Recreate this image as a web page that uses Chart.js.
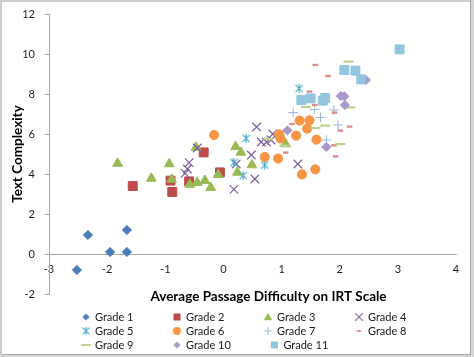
<!DOCTYPE html>
<html><head><meta charset="utf-8">
<script src="https://cdn.jsdelivr.net/npm/chart.js@4/dist/chart.umd.min.js"></script>
<style>html,body{margin:0;padding:0;background:#fff}canvas{display:block}</style>
</head><body>
<canvas id="c" width="474" height="357"></canvas>
<script>
// ---------- data ----------
const seriesNames = ['Grade 1','Grade 2','Grade 3','Grade 4','Grade 5','Grade 6','Grade 7','Grade 8','Grade 9','Grade 10','Grade 11'];
const xTickLabels = ['-3','-2','-1','0','1','2','3','4'];
const yTickLabels = ['-2','0','2','4','6','8','10','12'];
const xTitle = 'Average Passage Difficulty on IRT Scale';
const yTitle = 'Text Complexity';

const g1x = [-2.52, -2.33, -1.95, -1.66, -1.66];
const g1y = [-0.8, 0.95, 0.1, 0.1, 1.2];
const g2x = [-1.56, -0.91, -0.88, -0.59, -0.34, -0.06];
const g2y = [3.4, 3.67, 3.1, 3.63, 5.08, 4.08];
const g3x = [-1.82, -1.24, -0.93, -0.89, -0.58, -0.45, -0.32, -0.22, -0.09, -0.47, 0.21, 0.3, 0.24, 0.49, 1.07];
const g3y = [4.53, 3.78, 4.5, 3.73, 3.48, 3.57, 3.67, 3.32, 3.97, 5.33, 5.37, 5.08, 4.08, 4.45, 5.5];
const g4x = [-0.66, -0.62, -0.59, -0.45, 0.18, 0.22, 0.48, 0.54, 0.57, 0.65, 0.74, 0.82, 0.85, 1.28];
const g4y = [4.03, 4.25, 4.57, 5.3, 3.23, 4.5, 4.95, 3.75, 6.35, 5.6, 5.6, 5.7, 6.0, 4.5];
const g5x = [0.18, 0.34, 0.39, 0.71, 1.3];
const g5y = [4.57, 3.92, 5.78, 4.45, 8.28];
const g6x = [-0.16, 0.71, 0.94, 0.96, 0.98, 1.25, 1.31, 1.35, 1.44, 1.48, 1.58, 1.6];
const g6y = [5.95, 4.85, 4.77, 5.98, 5.78, 5.92, 6.67, 3.98, 6.27, 6.68, 4.23, 5.72];
const g7x = [1.2, 1.57, 1.9, 1.67, 1.97, 1.77];
const g7y = [7.07, 7.23, 7.2, 6.83, 6.45, 5.7];
const g8x = [1.58, 1.8, 1.48, 1.57, 1.91, 1.18, 2.17, 2.01, 1.07, 1.9, 1.93];
const g8y = [9.45, 8.9, 8.12, 7.45, 7.07, 6.5, 6.37, 6.17, 5.07, 5.43, 4.88];
const g9x = [2.15, 1.42, 2.18, 1.75, 1.58, 2.01, 1.05, 0.77];
const g9y = [9.62, 7.35, 7.33, 6.42, 6.3, 5.5, 5.42, 5.75];
const g10x = [2.02, 2.08, 2.09, 2.45, 1.1, 1.77];
const g10y = [7.9, 7.88, 7.45, 8.7, 6.18, 5.35];
const g11x = [3.03, 2.08, 2.27, 2.37, 1.34, 1.5, 1.71, 1.75];
const g11y = [10.23, 9.2, 9.17, 8.73, 7.7, 7.78, 7.67, 7.8];

const seriesX = [g1x,g2x,g3x,g4x,g5x,g6x,g7x,g8x,g9x,g10x,g11x];
const seriesY = [g1y,g2y,g3y,g4y,g5y,g6y,g7y,g8y,g9y,g10y,g11y];

// ---------- styles ----------
const FONT = 'Lato';
const colors = ['#4A7EBB','#BE4B48','#98B954','#7D60A0','#46AAC5','#F69544','#9DB3DF','#D9908E','#BDD18F','#A899C8','#93C6DE'];
const kinds  = ['diamond','square','triangle','x','aster','circle','plus','dash','line','diamond','square'];

function asteriskImg(color, s, lw) {
  const c = document.createElement('canvas'); c.width = s; c.height = s;
  const g = c.getContext('2d'); g.strokeStyle = color; g.lineWidth = lw; g.beginPath();
  const m = s/2, h = s/2 - 1;
  g.moveTo(m-h*0.8, m-h*0.8); g.lineTo(m+h*0.8, m+h*0.8);
  g.moveTo(m+h*0.8, m-h*0.8); g.lineTo(m-h*0.8, m+h*0.8);
  g.moveTo(m, m-h); g.lineTo(m, m+h);
  g.stroke(); return c;
}

const pointCfg = {
  diamond: {pointStyle:'rectRot', pointRadius:4.6, borderWidth:1},
  square:  {pointStyle:'rect', pointRadius:6.3, borderWidth:1},
  triangle:{pointStyle:'triangle', pointRadius:5.6, borderWidth:1},
  x:       {pointStyle:'crossRot', pointRadius:6.0, borderWidth:1.2},
  circle:  {pointStyle:'circle', pointRadius:4.6, borderWidth:1},
  plus:    {pointStyle:'cross', pointRadius:4.8, borderWidth:1},
  dash:    {pointStyle:'line', pointRadius:2.8, borderWidth:2.4},
  line:    {pointStyle:'line', pointRadius:5, borderWidth:2.2}
};

// ---------- legend geometry ----------
const LEG_FONT = 11, LEG_PAD = 3;
const LEG_TEXT_X = 95, LEG_PITCH = 91, LEG_ROW1_Y = 317;
const mctx = document.createElement('canvas').getContext('2d');
mctx.font = 'normal ' + LEG_FONT + 'px ' + FONT;
const baseTextW = mctx.measureText(seriesNames[0]).width;
const WB = LEG_PITCH - LEG_FONT/2 - baseTextW - LEG_PAD;
const ICON_W = Math.ceil(WB) * 2, ICON_H = 14;

function legendIcon(kind, color) {
  const c = document.createElement('canvas'); c.width = ICON_W; c.height = ICON_H;
  const g = c.getContext('2d'); g.fillStyle = color; g.strokeStyle = color;
  const mx = ICON_W/2 + WB/2 - 3.5, my = ICON_H/2;
  g.beginPath();
  switch (kind) {
    case 'diamond': g.moveTo(mx, my-3.6); g.lineTo(mx+3.6, my); g.lineTo(mx, my+3.6); g.lineTo(mx-3.6, my); g.closePath(); g.fill(); break;
    case 'square': g.fillRect(mx-3.5, my-3.5, 7, 7); break;
    case 'triangle': g.moveTo(mx, my-4.2); g.lineTo(mx+4.2, my+3.2); g.lineTo(mx-4.2, my+3.2); g.closePath(); g.fill(); break;
    case 'x': g.lineWidth = 1.1; g.moveTo(mx-3.8, my-3.8); g.lineTo(mx+3.8, my+3.8); g.moveTo(mx+3.8, my-3.8); g.lineTo(mx-3.8, my+3.8); g.stroke(); break;
    case 'aster': g.lineWidth = 1.1; g.moveTo(mx-3.3, my-3.3); g.lineTo(mx+3.3, my+3.3); g.moveTo(mx+3.3, my-3.3); g.lineTo(mx-3.3, my+3.3); g.moveTo(mx, my-4); g.lineTo(mx, my+4); g.stroke(); break;
    case 'circle': g.arc(mx, my, 4, 0, Math.PI*2); g.fill(); break;
    case 'plus': g.lineWidth = 1; g.moveTo(mx-4, my); g.lineTo(mx+4, my); g.moveTo(mx, my-4); g.lineTo(mx, my+4); g.stroke(); break;
    case 'dash': g.fillRect(mx-2, my-1, 4, 2); break;
    case 'line': g.fillRect(mx-5, my-1, 10, 2); break;
  }
  return c;
}
const legendIcons = kinds.map((k, i) => legendIcon(k, colors[i]));

// ---------- datasets ----------
const datasets = seriesNames.map((name, i) => {
  const k = kinds[i];
  const base = k === 'aster'
    ? {pointStyle: asteriskImg(colors[i], 11, 1.2), pointRadius: 5, borderWidth: 1}
    : pointCfg[k];
  return Object.assign({
    label: name,
    data: seriesX[i].map((x, j) => ({x: x, y: seriesY[i][j]})),
    backgroundColor: colors[i],
    borderColor: colors[i],
    showLine: false,
    order: seriesNames.length - i
  }, base, {pointHoverRadius: base.pointRadius});
});

// ---------- plugins ----------
const framePlugin = {
  id: 'frame',
  beforeDraw(chart) {
    const c = chart.ctx, W = chart.width, H = chart.height;
    c.save();
    c.fillStyle = '#ffffff'; c.fillRect(0, 0, W, H);
    c.fillStyle = '#cccccc';
    c.fillRect(0, 0, W, 2); c.fillRect(0, 0, 2, H);
    c.fillStyle = '#d6d6d6';
    c.fillRect(W-4, 0, 4, H); c.fillRect(0, H-3, W, 3);
    c.fillStyle = '#a8a8a8';
    c.fillRect(W-4, 0, 1, H-2); c.fillRect(2, H-3, W-5, 1);
    c.restore();
  }
};
const placePlugin = {
  id: 'place',
  afterLayout(chart) {
    const lg = chart.legend;
    if (lg) {
      const left = LEG_TEXT_X - LEG_FONT/2 - WB - LEG_PAD;
      const top = LEG_ROW1_Y - LEG_PAD - LEG_FONT/2;
      const dx = left - lg.left, dy = top - lg.top;
      lg.left += dx; lg.right += dx; lg.top += dy; lg.bottom += dy;
    }
    const t = chart.titleBlock;
    if (t) {
      const cx = 268.5, cy = 296.5;
      const halfW = (t.right - t.left) / 2;
      t.left = cx - halfW; t.right = cx + halfW;
      const fontLH = 13.5 * 1.2;
      const h = t.bottom - t.top;
      t.top = cy - fontLH/2; t.bottom = t.top + h;
    }
  }
};

new Chart(document.getElementById('c'), {
  type: 'scatter',
  data: {datasets: datasets},
  plugins: [framePlugin, placePlugin],
  options: {
    responsive: false,
    animation: false,
    devicePixelRatio: 1,
    layout: {padding: {left: 4, right: 18, top: 4, bottom: 0}},
    scales: {
      x: {
        type: 'linear', axis: 'x',
        position: {y: 0},
        min: Number(xTickLabels[0]), max: Number(xTickLabels[xTickLabels.length-1]),
        ticks: {stepSize: 1, font: {family: FONT, size: 11}, color: '#1f1f1f', padding: 9,
                callback: (v) => xTickLabels.includes(String(v)) ? String(v) : ''},
        grid: {drawOnChartArea: false, drawTicks: false},
        border: {color: '#a6a6a6', width: 1}
      },
      y: {
        type: 'linear', position: 'left',
        min: Number(yTickLabels[0]), max: Number(yTickLabels[yTickLabels.length-1]),
        ticks: {stepSize: 2, font: {family: FONT, size: 11, lineHeight: 0.73}, color: '#1f1f1f', padding: 10,
                callback: (v) => yTickLabels.includes(String(v)) ? String(v) : ''},
        grid: {drawOnChartArea: false, drawTicks: true, tickLength: 4, color: '#a6a6a6'},
        border: {color: '#a6a6a6', width: 1},
        title: {display: true, text: yTitle, font: {family: FONT, size: 13.5, weight: 'bold'}, color: '#000', padding: {top: 6, bottom: 0}},
        afterFit: (s) => { s.width = 45; }
      }
    },
    plugins: {
      tooltip: {enabled: false},
      title: {
        display: true, text: xTitle, position: 'bottom', fullSize: false,
        font: {family: FONT, size: 13.5, weight: 'bold'}, color: '#000',
        padding: {top: 0, bottom: -5.2}
      },
      legend: {
        display: true, position: 'bottom', fullSize: false, align: 'start',
        labels: {
          usePointStyle: true, pointStyleWidth: WB, padding: LEG_PAD,
          font: {family: FONT, size: LEG_FONT}, color: '#1a1a1a',
          generateLabels: (chart) => {
            const items = Chart.defaults.plugins.legend.labels.generateLabels(chart);
            items.sort((a, b) => a.datasetIndex - b.datasetIndex);
            items.forEach((it) => { it.pointStyle = legendIcons[it.datasetIndex]; it.rotation = 0; });
            return items;
          }
        }
      }
    }
  }
});
</script>
</body></html>
